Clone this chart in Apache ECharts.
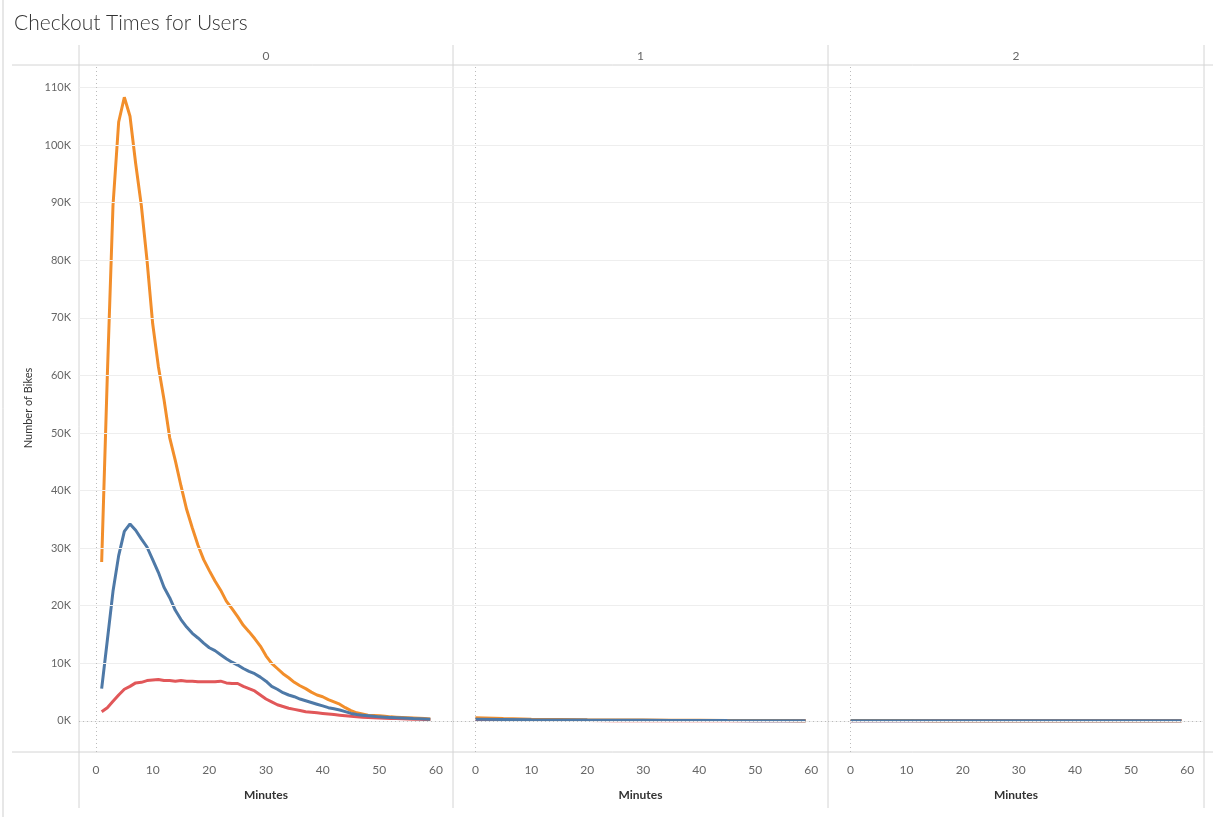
<!DOCTYPE html>
<html><head><meta charset="utf-8">
<script src="https://cdn.jsdelivr.net/npm/echarts@6/dist/echarts.min.js"></script>
<style>html,body{margin:0;padding:0;background:#fff}#c{width:1213px;height:817px}</style>
</head><body><div id="c"></div>
<script>
const panels = ['0','1','2'];
const yTicks = [0,10000,20000,30000,40000,50000,60000,70000,80000,90000,100000,110000];
const xTicks = [0,10,20,30,40,50,60];
// panel 0, minutes 1..59 (values in K)
const minutes0 = Array.from({length:59},(_,i)=>i+1);
const orange0 = [27.6,60,89.5,104,108.3,105,96.8,89.5,80,69,61.6,55.8,49.2,45.2,40.8,36.7,33.5,30.5,28,26.1,24.3,22.7,20.8,19.5,18.1,16.6,15.5,14.3,13,11.3,10,9.1,8.2,7.5,6.7,6.1,5.6,5.0,4.5,4.2,3.7,3.3,2.9,2.3,1.8,1.4,1.2,1.0,0.95,0.9,0.8,0.7,0.65,0.6,0.55,0.5,0.45,0.4,0.35];
const blue0 = [5.6,14,22.5,28.7,32.9,34.2,33.1,31.6,30.2,28,25.8,23.2,21.4,19.2,17.6,16.3,15.2,14.4,13.5,12.7,12.2,11.5,10.8,10.2,9.7,9.1,8.6,8.2,7.6,6.9,6.0,5.5,4.9,4.5,4.2,3.8,3.5,3.2,2.9,2.6,2.3,2.1,1.9,1.6,1.3,1.1,1.0,0.9,0.8,0.7,0.65,0.6,0.55,0.5,0.45,0.4,0.38,0.35,0.3];
const red0 = [1.6,2.3,3.4,4.5,5.5,6.0,6.6,6.7,7.0,7.1,7.2,7.0,7.0,6.9,7.0,6.9,6.9,6.8,6.8,6.8,6.8,6.9,6.6,6.5,6.5,6.0,5.6,5.2,4.5,3.8,3.3,2.8,2.5,2.2,2.0,1.8,1.6,1.5,1.4,1.3,1.2,1.1,1.0,0.9,0.8,0.7,0.65,0.6,0.55,0.5,0.45,0.42,0.4,0.37,0.34,0.3,0.28,0.25,0.22];
// panels 1 and 2, minutes 0..59 sampled every 5 min (values in K)
const minutes12 = [0,5,10,15,20,25,30,35,40,45,50,55,59];
const orange1 = [0.55,0.4,0.3,0.25,0.2,0.17,0.14,0.12,0.1,0.08,0.06,0.05,0.04];
const blue1 = [0.3,0.25,0.2,0.17,0.14,0.12,0.1,0.08,0.07,0.05,0.04,0.03,0.02];
const red1 = [0.1,0.08,0.07,0.06,0.05,0.04,0.03,0.03,0.02,0.02,0.01,0.01,0.01];
const orange2 = [0.06,0.05,0.05,0.04,0.04,0.03,0.03,0.03,0.02,0.02,0.02,0.01,0.01];
const blue2 = [0.04,0.04,0.03,0.03,0.03,0.02,0.02,0.02,0.02,0.01,0.01,0.01,0.01];
const red2 = [0.02,0.02,0.02,0.01,0.01,0.01,0.01,0.01,0.01,0.01,0.01,0.01,0.01];

const COL = {orange:'#f28e2b', blue:'#4e79a7', red:'#e15759'};
const seriesData = [
  [[minutes0,red0,'red'],[minutes0,orange0,'orange'],[minutes0,blue0,'blue']],
  [[minutes12,red1,'red'],[minutes12,orange1,'orange'],[minutes12,blue1,'blue']],
  [[minutes12,red2,'red'],[minutes12,orange2,'orange'],[minutes12,blue2,'blue']]
];
const grids = [{left:79,width:374},{left:453,width:375},{left:828,width:376}];
const xMins = [-3,-4,-4];

const chart = echarts.init(document.getElementById('c'));
const option = {
  animation:false,
  title:{text:'Checkout Times for Users',left:9,top:8,textStyle:{fontFamily:'Lato',fontWeight:300,fontSize:21,color:'#333'}},
  grid: grids.map(g=>({left:g.left,width:g.width,top:65,bottom:65})),
  xAxis: grids.map((g,i)=>({type:'value',gridIndex:i,min:xMins[i],max:63,interval:1,
    axisLine:{show:false},axisTick:{show:false},splitLine:{show:false},
    axisLabel:{margin:12,color:'#666',fontSize:12,fontFamily:'Lato',formatter:v=>xTicks.includes(v)?String(v):''},
    name:'Minutes',nameLocation:'middle',nameGap:37,nameTextStyle:{fontFamily:'Lato',fontSize:12,fontWeight:'bold',color:'#333'}})),
  yAxis: grids.map((g,i)=>({type:'value',gridIndex:i,min:-5400,max:113900,
    axisLine:{show:false},axisTick:{show:false},splitLine:{show:false},axisLabel:{show:false}})),
  graphic:[
    {type:'text',left:20,top:408,rotation:Math.PI/2,style:{text:'Number of Bikes',font:'11px Lato',fill:'#333',textAlign:'center',textVerticalAlign:'middle'},x:28,y:408,position:[28,408]},
    ...panels.map((p,i)=>({type:'text',style:{text:p,x:grids[i].left+grids[i].width/2,y:56,font:'12px Lato',fill:'#666',align:'center',verticalAlign:'middle'}})),
    {type:'line',shape:{x1:12,y1:65,x2:1213,y2:65},style:{stroke:'#d4d4d4',lineWidth:1}},
    {type:'line',shape:{x1:12,y1:752,x2:1213,y2:752},style:{stroke:'#d4d4d4',lineWidth:1}},
    {type:'line',shape:{x1:3,y1:0,x2:3,y2:817},style:{stroke:'#cfcfcf',lineWidth:1}},
    ...[79,453,828].map(x=>({type:'line',shape:{x1:x,y1:45,x2:x,y2:808},style:{stroke:'#d4d4d4',lineWidth:1}})),
    {type:'line',shape:{x1:1204,y1:45,x2:1204,y2:808},style:{stroke:'#d4d4d4',lineWidth:1}}
  ],
  series:[]
};
option.graphic[0] = {type:'text',x:28,y:408,rotation:Math.PI/2,style:{text:'Number of Bikes',font:'11px Lato',fill:'#333',align:'center',verticalAlign:'middle'}};

seriesData.forEach((list,pi)=>{
  // grid lines and zero lines
  option.series.push({type:'line',xAxisIndex:pi,yAxisIndex:pi,data:[],silent:true,
    markLine:{silent:true,symbol:'none',animation:false,
      data:[
        ...yTicks.map(v=>({yAxis:v,lineStyle:{color:'#eeeeee',type:'solid',width:1},
          label:{show:pi===0,position:'start',distance:8,formatter:(v/1000)+'K',color:'#666',fontSize:11,fontFamily:'Lato'}})),
        {yAxis:0,lineStyle:{color:'#bbbbbb',type:[1,3],width:1},label:{show:false}},
        {xAxis:0,lineStyle:{color:'#bbbbbb',type:[1,3],width:1},label:{show:false}}
      ]}});
  list.forEach(([xs,ys,c])=>{
    option.series.push({type:'line',xAxisIndex:pi,yAxisIndex:pi,showSymbol:false,smooth:false,
      lineStyle:{color:COL[c],width:3},itemStyle:{color:COL[c]},
      data:xs.map((x,k)=>[x,ys[k]*1000])});
  });
});
chart.setOption(option);
</script></body></html>
